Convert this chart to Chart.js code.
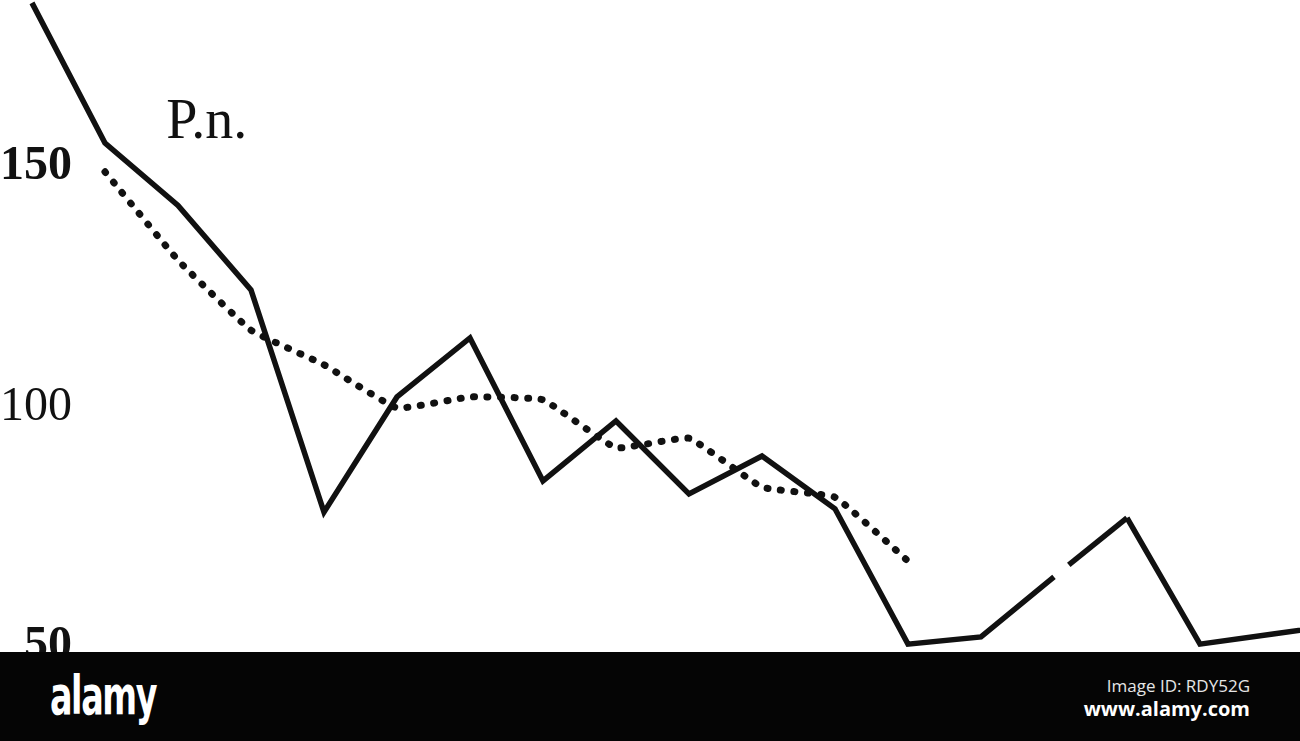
<!DOCTYPE html>
<html>
<head>
<meta charset="utf-8">
<script src="https://cdn.jsdelivr.net/npm/chart.js@4"></script>
<style>
  html, body { margin: 0; padding: 0; background: #fff; }
  #wrap { position: relative; width: 1300px; height: 741px; overflow: hidden; }
  #myChart { display: block; }
  #bar { position: absolute; left: 0; top: 652px; width: 1300px; height: 89px; background: #050505; }
  #logo { position: absolute; left: 50px; top: 13px; color: #fff; font: bold 53px "DejaVu Sans Condensed", "DejaVu Sans", sans-serif;
          transform: scaleX(0.7); transform-origin: left top; letter-spacing: -2px; }
  #imgid { position: absolute; right: 50px; top: 22px; color: #e6e6e6; font: 17px "Open Sans", sans-serif; }
  #site { position: absolute; right: 50px; top: 43px; color: #fff; font: bold 20px "Open Sans", sans-serif; }
</style>
</head>
<body>
<div id="wrap">
  <canvas id="myChart" width="1300" height="652"></canvas>
  <div id="bar">
    <div id="logo">alamy</div>
    <div id="imgid">Image ID: RDY52G</div>
    <div id="site">www.alamy.com</div>
  </div>
</div>
<script>
// vị trí các điểm theo trục ngang (bước thời gian)
var steps = [0, 1, 2, 3, 4, 5, 6, 7, 8, 9, 10, 11, 12, 13, 14, 15, 16, 17, 18];

// đường liền (P.n.)
var solidValues = [184.2, 155.0, 142.0, 124.4, 78.1, 102.1, 114.4, 84.6, 97.1, 81.9,
                   89.8, 78.8, 50.6, 52.1, 64.6, 76.9, 50.6, 52.7, 54.8];

// đường chấm chấm
var dottedValues = [null, 149.0, 130.6, 116.0, 108.8, 99.8, 102.1, 101.5, 91.5, 93.5,
                    83.3, 81.2, 67.9, null, null, null, null, null, null];

// nhãn trục tung
var yTicks = [50, 100, 150];
var yTickLabels = ['50', '100', '150'];
var seriesLabel = 'P.n.';

function toPoints(values) {
    var pts = [];
    steps.forEach(function (x, i) {
        if (values[i] !== null) pts.push({ x: x, y: values[i] });
    });
    return pts;
}

// vẽ chữ "P.n." cạnh đường liền
var seriesLabelPlugin = {
    id: 'seriesLabel',
    afterDatasetsDraw: function (chart) {
        var c = chart.ctx;
        var xs = chart.scales.x, ys = chart.scales.y;
        c.save();
        c.fillStyle = '#111';
        c.font = '56px "Liberation Serif", serif';
        c.textAlign = 'left';
        c.textBaseline = 'alphabetic';
        c.fillText(seriesLabel, xs.getPixelForValue(1.84), ys.getPixelForValue(156));
        c.restore();
    }
};

var ctx = document.getElementById('myChart').getContext('2d');
var myChart = new Chart(ctx, {
    type: 'line',
    data: {
        datasets: [{
            label: seriesLabel,
            data: toPoints(solidValues),
            borderColor: '#111',
            borderWidth: 5.5,
            borderJoinStyle: 'miter',
            pointRadius: 0,
            tension: 0,
            // chỗ đứt nét nhỏ trên bản gốc
            segment: {
                borderDash: function (s) { return s.p0DataIndex === 14 ? [0, 19, 400, 0] : []; }
            }
        }, {
            label: 'dotted',
            data: toPoints(dottedValues),
            borderColor: '#111',
            borderWidth: 7,
            borderDash: [1, 12.5],
            borderCapStyle: 'round',
            pointRadius: 0,
            tension: 0.1
        }]
    },
    options: {
        responsive: false,
        animation: false,
        devicePixelRatio: 1,
        layout: { padding: 0 },
        plugins: {
            legend: { display: false },
            tooltip: { enabled: false }
        },
        scales: {
            x: {
                type: 'linear',
                min: -0.438,
                max: 17.37,
                display: false
            },
            y: {
                min: 48.96,
                max: 184.8,
                grid: { display: false, drawTicks: false },
                border: { display: false },
                afterBuildTicks: function (scale) {
                    scale.ticks = yTicks.map(function (v) { return { value: v }; });
                },
                afterFit: function (scale) {
                    // nhãn nằm trong vùng vẽ, không cần chừa lề trên/dưới
                    scale.paddingTop = 0;
                    scale.paddingBottom = 0;
                },
                ticks: {
                    mirror: true,
                    padding: 0,
                    crossAlign: 'far',
                    color: '#111',
                    font: function (c) {
                        var v = c.tick ? c.tick.value : 0;
                        return { family: '"Liberation Serif", serif', size: 48, weight: v === 100 ? 'normal' : 'bold' };
                    },
                    callback: function (value) {
                        var i = yTicks.indexOf(value);
                        return i >= 0 ? yTickLabels[i] : '';
                    }
                }
            }
        }
    },
    plugins: [seriesLabelPlugin]
});
</script>
</body>
</html>
